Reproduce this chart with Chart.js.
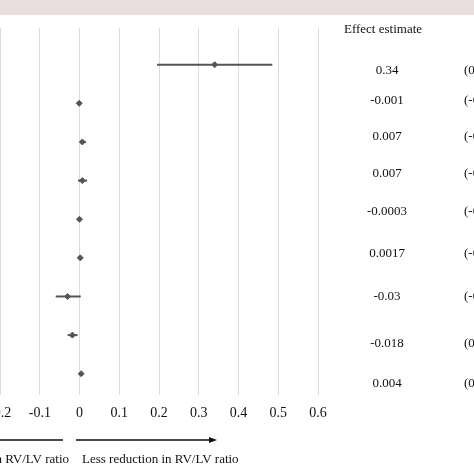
<!DOCTYPE html>
<html>
<head>
<meta charset="utf-8">
<script src="https://cdn.jsdelivr.net/npm/chart.js@4"></script>
<style>
  html, body { margin: 0; padding: 0; background: #fff; }
  #wrap { width: 474px; height: 474px; position: relative; overflow: hidden; }
  #forest { position: absolute; left: -21px; top: 0; }
</style>
</head>
<body>
<div id="wrap"><canvas id="forest" width="495" height="474"></canvas></div>
<script>
// rows from top to bottom
var rows = [1, 2, 3, 4, 5, 6, 7, 8, 9];
var estimates = [0.34, -0.001, 0.007, 0.007, -0.0003, 0.0017, -0.03, -0.018, 0.004];
var lower = [0.195, -0.003, 0.001, -0.004, -0.002, -0.001, -0.06, -0.03, 0.001];
var upper = [0.485, 0.001, 0.016, 0.019, 0.001, 0.004, 0.003, -0.005, 0.007];
var estimateLabels = ["0.34", "-0.001", "0.007", "0.007", "-0.0003", "0.0017", "-0.03", "-0.018", "0.004"];
var labelRows = [1.14, 1.93, 2.87, 3.83, 4.81, 5.88, 6.99, 8.21, 9.26];
var ciLabels = ["(0.19, 0.49)", "(-0.003, 0.001)", "(-0.001, 0.016)", "(-0.004, 0.019)", "(-0.002, 0.001)", "(-0.001, 0.004)", "(-0.06, 0.003)", "(0.03, -0.005)", "(0.001, 0.007)"];
var xTicks = [-0.2, -0.1, 0, 0.1, 0.2, 0.3, 0.4, 0.5, 0.6];

var points = rows.map(function (r, i) { return { x: estimates[i], y: r }; });
var off = 21; // canvas is shifted left by this much

var extras = {
    id: "extras",
    beforeDraw: function (chart) {
        var c = chart.ctx;
        c.save();
        c.fillStyle = "#e9dede";
        c.fillRect(0, 0, chart.width, 15);
        c.restore();
    },
    afterDatasetsDraw: function (chart) {
        var c = chart.ctx, xs = chart.scales.x, ys = chart.scales.y;
        c.save();
        // confidence intervals
        c.strokeStyle = "#555";
        c.lineWidth = 2;
        for (var i = 0; i < rows.length; i++) {
            var y = ys.getPixelForValue(rows[i]);
            c.beginPath();
            c.moveTo(xs.getPixelForValue(lower[i]), y);
            c.lineTo(xs.getPixelForValue(upper[i]), y);
            c.stroke();
        }
        // text columns
        c.fillStyle = "#111";
        c.font = "13px 'Liberation Serif', serif";
        c.textBaseline = "middle";
        c.textAlign = "center";
        c.fillText("Effect estimate", 383 + off, 30);
        for (var j = 0; j < rows.length; j++) {
            var ly = ys.getPixelForValue(labelRows[j]);
            c.textAlign = "center";
            c.fillText(estimateLabels[j], 387 + off, ly);
            c.textAlign = "left";
            c.fillText(ciLabels[j], 464 + off, ly);
        }
        // direction arrows
        var ay = 440;
        c.strokeStyle = "#111";
        c.lineWidth = 1.5;
        c.beginPath();
        c.moveTo(0, ay);
        c.lineTo(63 + off, ay);
        c.moveTo(76 + off, ay);
        c.lineTo(212 + off, ay);
        c.stroke();
        c.beginPath();
        c.moveTo(217 + off, ay);
        c.lineTo(209 + off, ay - 3);
        c.lineTo(209 + off, ay + 3);
        c.closePath();
        c.fill();
        c.textAlign = "right";
        c.fillText("Greater reduction in RV/LV ratio", 69 + off, 460);
        c.textAlign = "left";
        c.fillText("Less reduction in RV/LV ratio", 82 + off, 460);
        c.restore();
    }
};

new Chart(document.getElementById("forest").getContext("2d"), {
    type: "scatter",
    data: {
        datasets: [{
            data: points,
            pointStyle: "rectRot",
            pointRadius: 3,
            backgroundColor: "#555",
            borderColor: "#555"
        }]
    },
    options: {
        responsive: false,
        animation: false,
        layout: { padding: { left: 0, right: 156, top: 28, bottom: 0 } },
        plugins: { legend: { display: false }, tooltip: { enabled: false } },
        scales: {
            x: {
                type: "linear",
                min: -0.2,
                max: 0.6,
                afterBuildTicks: function (axis) {
                    axis.ticks = xTicks.map(function (v) { return { value: v }; });
                },
                border: { display: false },
                grid: { color: "#dcdcdc", drawTicks: false },
                ticks: {
                    padding: 10,
                    color: "#111",
                    font: { family: "'Liberation Serif', serif", size: 14 },
                    callback: function (v) { return String(Math.round(v * 10) / 10); }
                },
                afterFit: function (axis) { axis.height = 79; }
            },
            y: {
                type: "linear",
                reverse: true,
                min: 0.05,
                max: 9.55,
                display: false
            }
        }
    },
    plugins: [extras]
});
</script>
</body>
</html>
